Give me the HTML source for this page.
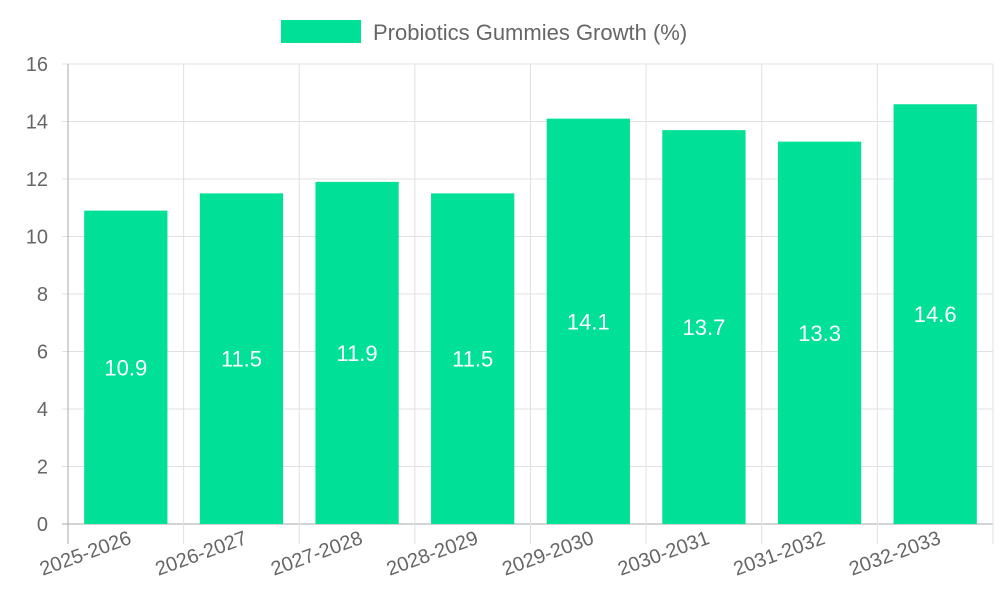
<!DOCTYPE html>
<html><head><meta charset="utf-8"><style>
body{margin:0;background:#fff}
svg{display:block;font-family:"Liberation Sans",sans-serif}
</style></head><body>
<svg id="c" width="1000" height="600"></svg>
<script>
const categories=["2025-2026","2026-2027","2027-2028","2028-2029","2029-2030","2030-2031","2031-2032","2032-2033"];
const values=[10.9,11.5,11.9,11.5,14.1,13.7,13.3,14.6];
const yTicks=[0,2,4,6,8,10,12,14,16];
const seriesName="Probiotics Gummies Growth (%)";
const NS="http://www.w3.org/2000/svg";
const svg=document.getElementById('c');
const L=68,R=993,T=64,B=524,yMax=16;
const bw=(R-L)/categories.length;
const y=v=>B-(B-T)*v/yMax;
const x=i=>L+bw*i;
function mk(t,a,p){const e=document.createElementNS(NS,t);for(const k in a)e.setAttribute(k,a[k]);(p||svg).appendChild(e);return e;}
const grid=mk('g',{});


yTicks.forEach(v=>{
  mk('line',{x1:L-6,x2:R,y1:y(v),y2:y(v),stroke:v===0?'#aaa':'#e0e0e0','stroke-width':1},grid);
  const t=mk('text',{x:L-20,y:y(v)+7,'text-anchor':'end','font-size':20,fill:'#666'});
  t.textContent=v;
  
  
});
for(let i=0;i<=categories.length;i++){
  mk('line',{x1:x(i),x2:x(i),y1:T,y2:B+20,stroke:i===0?'#aaa':'#e0e0e0','stroke-width':1},grid);
}
categories.forEach((c,i)=>{
  const cx=x(i)+bw/2, w=bw*0.72;
  const r=mk('rect',{x:cx-w/2,y:y(values[i]),width:w,height:B-y(values[i]),fill:'#00e096'});
  
  
  const t=mk('text',{x:cx,y:(y(values[i])+B)/2+8,'text-anchor':'middle','font-size':22,fill:'#fff'});
  t.textContent=values[i];
  
  
  const lx=cx+2,ly=544;
  const l=mk('text',{x:lx,y:ly,'text-anchor':'end','font-size':20,fill:'#666',transform:`rotate(-20 ${lx} ${ly-14})`});
  l.textContent=c;
  
  
});
const lg=mk('g',{});


mk('rect',{x:281,y:20,width:80,height:23,fill:'#00e096'},lg);
const lt=mk('text',{x:373,y:40,'font-size':22,fill:'#666'},lg);
lt.textContent=seriesName;
</script>
</body></html>
